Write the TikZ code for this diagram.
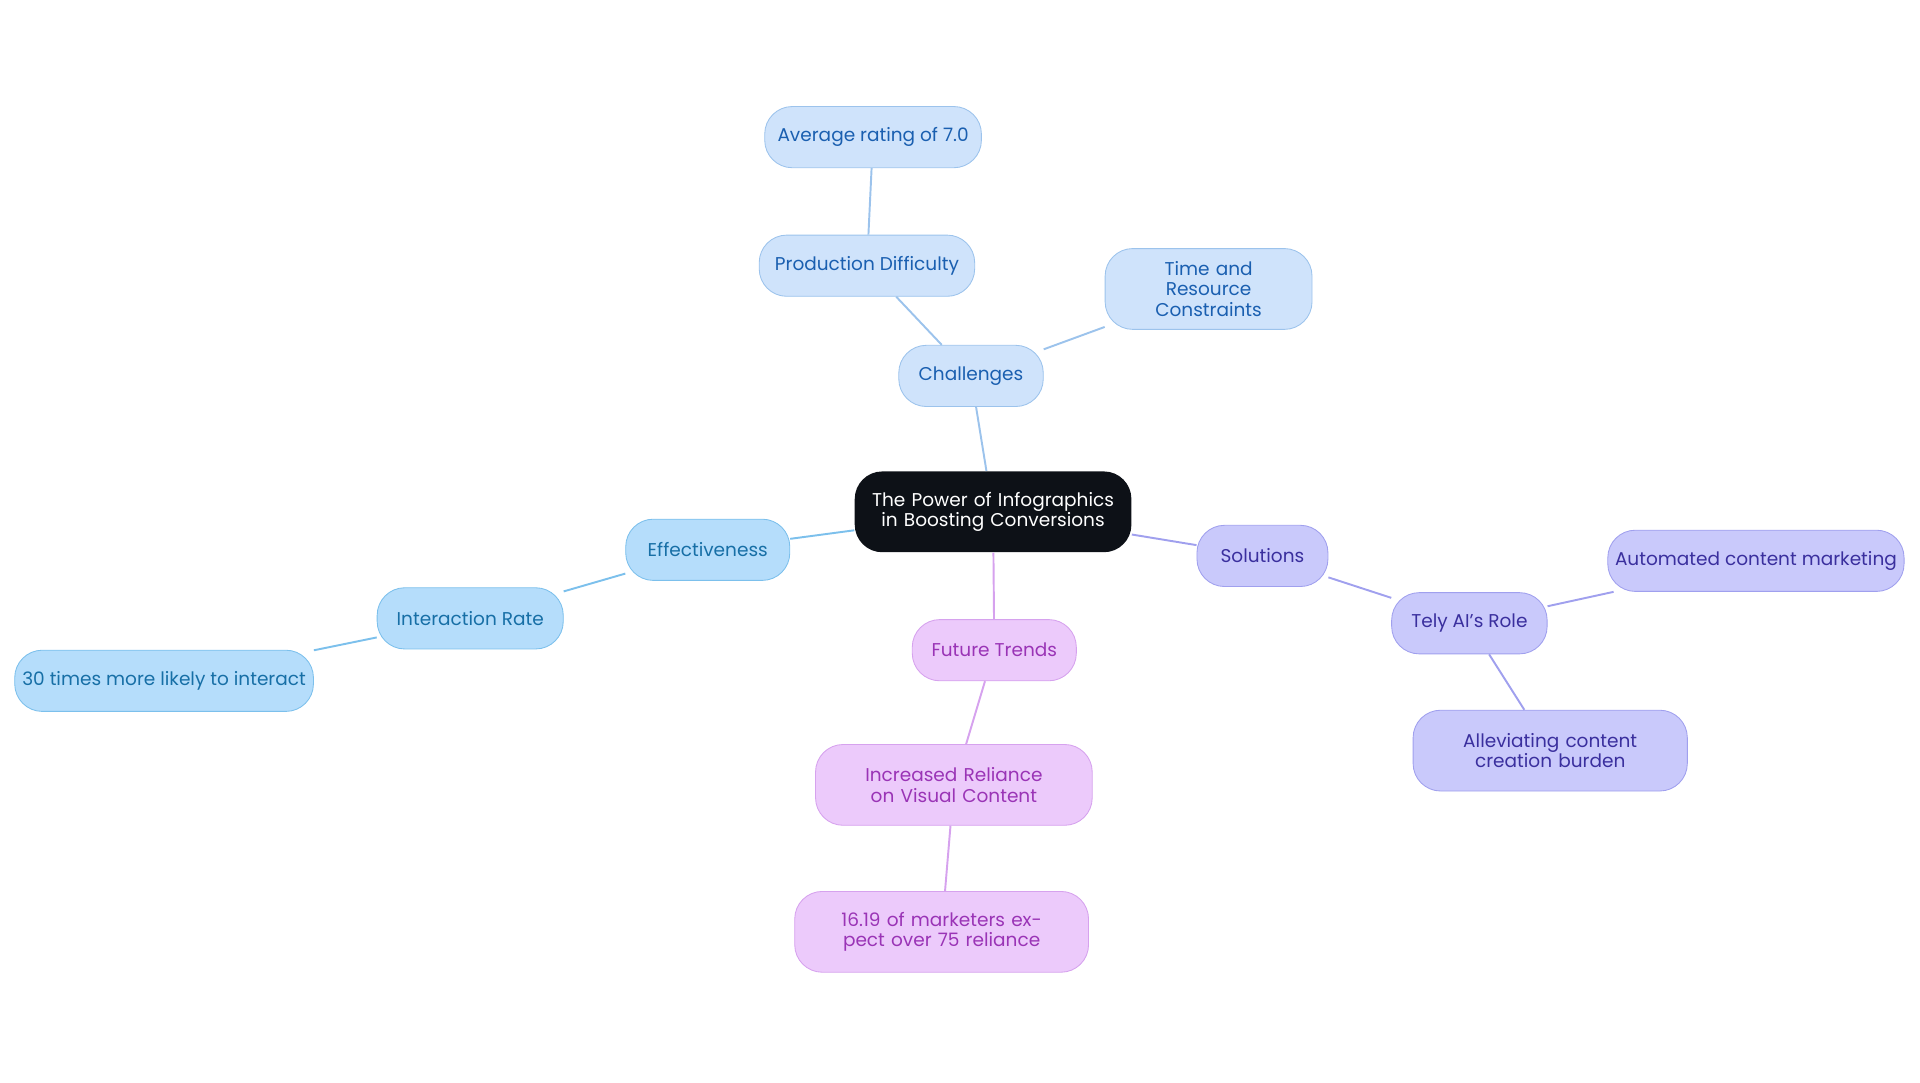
\documentclass[tikz,border=0pt]{standalone}
\usepackage{fontspec}
\setmainfont{Poppins}
\definecolor{bF}{HTML}{CFE3FB}\definecolor{bD}{HTML}{9CC3EC}\definecolor{bT}{HTML}{1A5FB0}
\definecolor{cF}{HTML}{B5DDFB}\definecolor{cD}{HTML}{7CC0EC}\definecolor{cT}{HTML}{176FA6}
\definecolor{sF}{HTML}{C9C9FB}\definecolor{sD}{HTML}{A0A0EE}\definecolor{sT}{HTML}{3A2F9E}
\definecolor{fF}{HTML}{ECCAFB}\definecolor{fD}{HTML}{D6A2EE}\definecolor{fT}{HTML}{9A34B6}
\definecolor{root}{HTML}{0D1117}
\tikzset{
 box/.style={rounded corners=0.45cm,align=center,font=\fontsize{8.6}{9.6}\selectfont,inner sep=0pt,minimum height=1cm},
 chb/.style={box,fill=bF,draw=bD,text=bT},
 efb/.style={box,fill=cF,draw=cD,text=cT},
 sob/.style={box,fill=sF,draw=sD,text=sT},
 ftb/.style={box,fill=fF,draw=fD,text=fT},
 two/.style={minimum height=1.32cm},
 eb/.style={draw=bD,line width=0.9pt},
 ec/.style={draw=cD,line width=0.9pt},
 es/.style={draw=sD,line width=0.9pt},
 ef/.style={draw=fD,line width=0.9pt},
}
\begin{document}
\begin{tikzpicture}[x=0.02cm,y=-0.02cm]
\useasboundingbox (0,0) rectangle (1568,884);
\node[box,fill=root,text=white,minimum width=4.52cm,minimum height=1.32cm,text width=4.1cm] (r) at (811,418) {The Power of Infographics in Boosting Conversions};
\node[chb,minimum width=2.36cm] (ch) at (793,307) {Challenges};
\node[chb,minimum width=3.52cm] (pd) at (708,217) {Production Difficulty};
\node[chb,minimum width=3.54cm] (ar) at (713,112) {Average rating of 7.0};
\node[chb,two,minimum width=3.38cm,text width=2.8cm] (tr) at (987,236) {Time and Resource Constraints};
\node[efb,minimum width=2.68cm] (ef) at (578,449) {Effectiveness};
\node[efb,minimum width=3.04cm] (ir) at (384,505) {Interaction Rate};
\node[efb,minimum width=4.88cm] (tt) at (134,556) {30 times more likely to interact};
\node[sob,minimum width=2.14cm] (so) at (1031,454) {Solutions};
\node[sob,minimum width=2.54cm] (ty) at (1200,509) {Tely AI's Role};
\node[sob,minimum width=4.84cm] (au) at (1434,458) {Automated content marketing};
\node[sob,two,minimum width=4.48cm,text width=3.9cm] (al) at (1266,613) {Alleviating content creation burden};
\node[ftb,minimum width=2.68cm] (ft) at (812,531) {Future Trends};
\node[ftb,two,minimum width=4.52cm,text width=3.9cm] (ir2) at (779,641) {Increased Reliance on Visual Content};
\node[ftb,two,minimum width=4.8cm,text width=4.1cm] (mk) at (769,761) {16.19 of marketers expect over 75 reliance};
\draw[eb] (r) -- (ch); \draw[eb] (ch) -- (pd); \draw[eb] (pd) -- (ar); \draw[eb] (ch) -- (tr);
\draw[ec] (r) -- (ef); \draw[ec] (ef) -- (ir); \draw[ec] (ir) -- (tt);
\draw[es] (r) -- (so); \draw[es] (so) -- (ty); \draw[es] (ty) -- (au); \draw[es] (ty) -- (al);
\draw[ef] (r) -- (ft); \draw[ef] (ft) -- (ir2); \draw[ef] (ir2) -- (mk);
\end{tikzpicture}
\end{document}
